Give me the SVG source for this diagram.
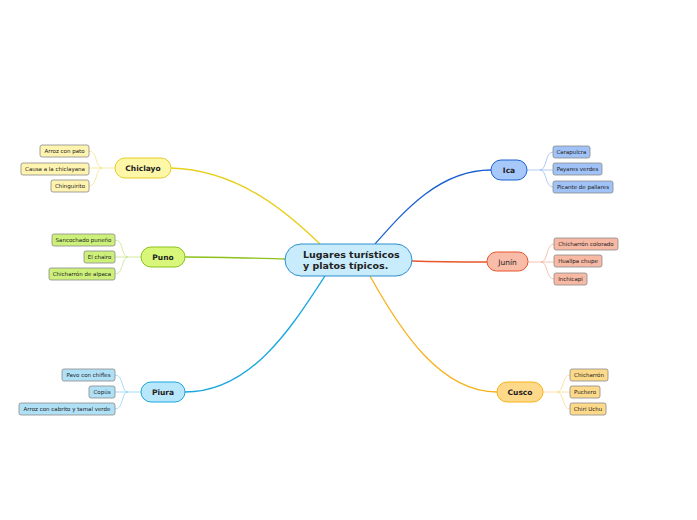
<svg xmlns="http://www.w3.org/2000/svg" width="697" height="520" viewBox="0 0 697 520">
<style>
text{font-family:"DejaVu Sans","Liberation Sans",sans-serif;fill:#222}
.m{font-size:7.5px;font-weight:bold;text-anchor:middle}
.c{font-size:5.5px;text-anchor:middle}
.k{stroke:#8a8a8a;stroke-width:0.8}
path{fill:none}
</style>
<rect width="697" height="520" fill="#fff"/>
<g id="connectors">
<path d="M320,244 C290,215 240,170 171,168" stroke="#e8cf1e" stroke-width="1.3"/>
<path d="M285,259 C250,258 220,257 185,257" stroke="#8cc21a" stroke-width="1.3"/>
<path d="M325,276 C290,330 250,392 185,392" stroke="#1aa7e0" stroke-width="1.3"/>
<path d="M375,244 C405,210 440,170 491,170" stroke="#1a5fd0" stroke-width="1.3"/>
<path d="M412,261 C440,262 460,262 487,262" stroke="#e8562a" stroke-width="1.3"/>
<path d="M370,276 C400,330 440,392 497,392" stroke="#f7b21a" stroke-width="1.3"/>
<g stroke="#f3e58a" stroke-width="0.8"><path d="M115,168 H102 C95,168 98,151 89,151"/><path d="M102,168 H89"/><path d="M102,168 C95,168 98,186 89,186"/></g>
<g stroke="#c6e48a" stroke-width="0.8"><path d="M141,257 H128 C121,257 124,240 115,240"/><path d="M128,257 H115"/><path d="M128,257 C121,257 124,274 115,274"/></g>
<g stroke="#8fd4f0" stroke-width="0.8"><path d="M141,392 H128 C121,392 124,375 115,375"/><path d="M128,392 H115"/><path d="M128,392 C121,392 124,409 115,409"/></g>
<g stroke="#9cbcf0" stroke-width="0.8"><path d="M527,170 H540 C547,170 545,152 553,152"/><path d="M540,170 H553"/><path d="M540,170 C547,170 545,187 553,187"/></g>
<g stroke="#f4b49c" stroke-width="0.8"><path d="M528,262 H541 C548,262 546,244 554,244"/><path d="M541,262 H554"/><path d="M541,262 C548,262 546,279 554,279"/></g>
<g stroke="#f9d890" stroke-width="0.8"><path d="M543,392 H557 C564,392 562,375 570,375"/><path d="M557,392 H570"/><path d="M557,392 C564,392 562,409 570,409"/></g>
</g>
<g id="center"><rect x="285" y="244" width="127" height="32" rx="16" fill="#c8ecfb" stroke="#2a8fd0"/><text x="303" y="258" font-size="9.5" font-weight="bold">Lugares turísticos</text><text x="303" y="269" font-size="9.5" font-weight="bold">y platos típicos.</text></g>
<g id="chiclayo"><rect x="115" y="158" width="56" height="20" rx="10" fill="#fff7a8" stroke="#e6cc2a"/><text class="m" x="143" y="171">Chiclayo</text></g>
<g id="chiclayo-1"><rect class="k" x="40" y="145" width="49" height="12" rx="2" fill="#fff3b0"/><text class="c" x="64.5" y="153">Arroz con pato</text></g>
<g id="chiclayo-2"><rect class="k" x="21" y="163" width="68" height="12" rx="2" fill="#fff3b0"/><text class="c" x="55" y="171">Causa a la chiclayana</text></g>
<g id="chiclayo-3"><rect class="k" x="51" y="180" width="38" height="12" rx="2" fill="#fff3b0"/><text class="c" x="70" y="188">Chinguirito</text></g>
<g id="puno"><rect x="141" y="247" width="44" height="20" rx="10" fill="#d8f77a" stroke="#8cc21a"/><text class="m" x="163" y="260">Puno</text></g>
<g id="puno-1"><rect class="k" x="52" y="234" width="63" height="12" rx="2" fill="#ccf07a"/><text class="c" x="83.5" y="242">Sancochado puneño</text></g>
<g id="puno-2"><rect class="k" x="84" y="251" width="31" height="12" rx="2" fill="#ccf07a"/><text class="c" x="99.5" y="259">El chairo</text></g>
<g id="puno-3"><rect class="k" x="49" y="268" width="66" height="12" rx="2" fill="#ccf07a"/><text class="c" x="82" y="276">Chicharrón de alpaca</text></g>
<g id="piura"><rect x="141" y="382" width="44" height="20" rx="10" fill="#b8e6fb" stroke="#1aa7e0"/><text class="m" x="163" y="395">Piura</text></g>
<g id="piura-1"><rect class="k" x="62" y="369" width="53" height="12" rx="2" fill="#b0e0f6"/><text class="c" x="88.5" y="377">Pavo con chifles</text></g>
<g id="piura-2"><rect class="k" x="89" y="386" width="26" height="12" rx="2" fill="#b0e0f6"/><text class="c" x="102" y="394">Copús</text></g>
<g id="piura-3"><rect class="k" x="19" y="403" width="96" height="12" rx="2" fill="#b0e0f6"/><text class="c" x="67" y="411">Arroz con cabrito y tamal verde</text></g>
<g id="ica"><rect x="491" y="160" width="36" height="20" rx="10" fill="#a6c8fb" stroke="#1a63d0"/><text class="m" x="509" y="173">Ica</text></g>
<g id="ica-1"><rect class="k" x="553" y="146" width="37" height="12" rx="2" fill="#a0c2f6"/><text class="c" x="571.5" y="154">Carapulcra</text></g>
<g id="ica-2"><rect class="k" x="553" y="163" width="49" height="12" rx="2" fill="#a0c2f6"/><text class="c" x="577.5" y="171">Payares verdes</text></g>
<g id="ica-3"><rect class="k" x="553" y="181" width="60" height="12" rx="2" fill="#a0c2f6"/><text class="c" x="583" y="189">Picante de pallares</text></g>
<g id="junin"><rect x="487" y="252" width="41" height="19" rx="9.5" fill="#f9bca8" stroke="#e8562a"/><text x="507.5" y="264.5" font-size="7.5" text-anchor="middle">Junín</text></g>
<g id="junin-1"><rect class="k" x="554" y="238" width="64" height="12" rx="2" fill="#f7b8a4"/><text class="c" x="586" y="246">Chicharrón colorado</text></g>
<g id="junin-2"><rect class="k" x="554" y="255" width="48" height="12" rx="2" fill="#f7b8a4"/><text class="c" x="578" y="263">Huallpa chupe</text></g>
<g id="junin-3"><rect class="k" x="554" y="273" width="33" height="12" rx="2" fill="#f7b8a4"/><text class="c" x="570.5" y="281">Inchicapi</text></g>
<g id="cusco"><rect x="497" y="382" width="46" height="20" rx="10" fill="#ffd98a" stroke="#f7b21a"/><text class="m" x="520" y="395">Cusco</text></g>
<g id="cusco-1"><rect class="k" x="570" y="369" width="38" height="12" rx="2" fill="#fdd98a"/><text class="c" x="589" y="377">Chicharrón</text></g>
<g id="cusco-2"><rect class="k" x="570" y="386" width="30" height="12" rx="2" fill="#fdd98a"/><text class="c" x="585" y="394">Puchero</text></g>
<g id="cusco-3"><rect class="k" x="570" y="403" width="36" height="12" rx="2" fill="#fdd98a"/><text class="c" x="588" y="411">Chiri Uchu</text></g>
</svg>
